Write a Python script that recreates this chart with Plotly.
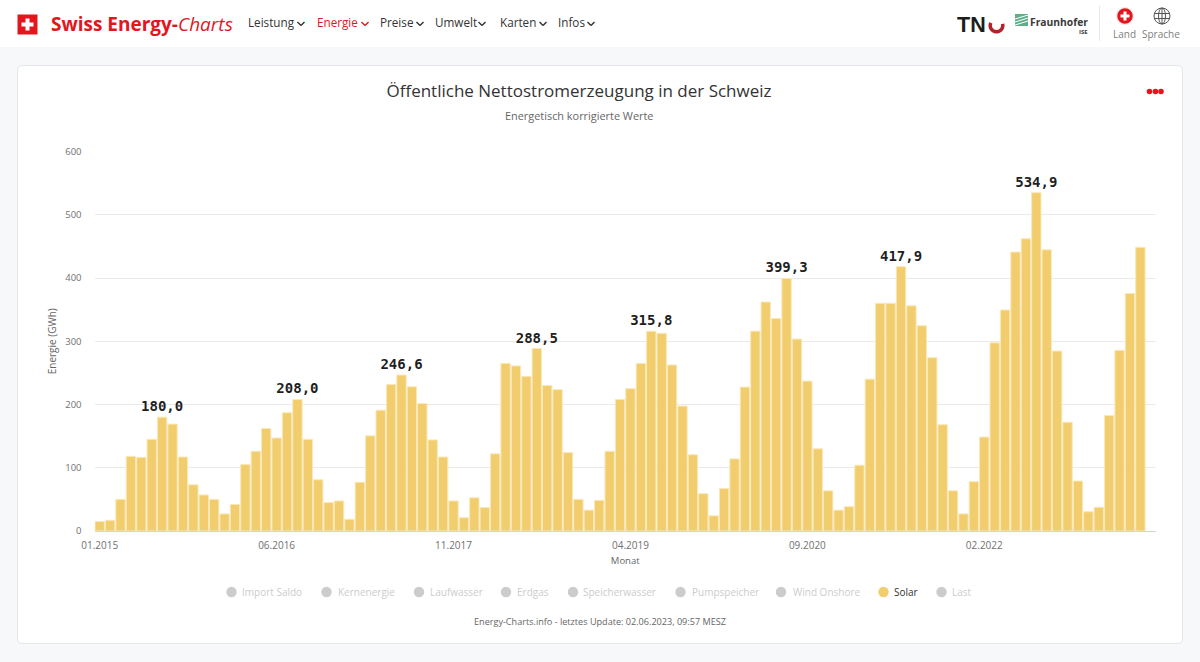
import math
import plotly.graph_objects as go

solar_gwh = [15, 17, 50, 118, 116.5, 145, 180.0, 169, 117, 73, 57, 50,
             27, 42, 105, 126, 162, 147, 187, 208.0, 145, 81, 45, 47.5,
             18.5, 77, 150.5, 191, 231.5, 246.6, 228, 201.5, 144, 117, 47.5, 21,
             52.5, 37, 122, 265, 261, 244.5, 288.5, 230, 223.5, 124, 50, 33,
             48.5, 126, 208, 225, 265, 315.8, 312.5, 262.5, 197.5, 120.5, 59, 24,
             67, 114, 227.5, 316, 362, 336, 399.3, 303.5, 237, 130, 63.5, 33,
             38.5, 104, 240, 360, 360, 417.9, 356, 324.5, 274, 168, 63.5, 27,
             78, 148.5, 297.5, 349.5, 441, 462, 534.9, 444.5, 284.5, 172, 79, 30.5,
             37.5, 182.5, 285.5, 375.5, 448.5]
months = [f"{m:02d}.{y}" for y in range(2015, 2024) for m in range(1, 13)][:len(solar_gwh)]
peak_months = ["07.2015", "08.2016", "06.2017", "07.2018", "06.2019", "07.2020", "06.2021", "07.2022"]
tick_months = ["01.2015", "06.2016", "11.2017", "04.2019", "09.2020", "02.2022"]
legend_names = ["Import Saldo", "Kernenergie", "Laufwasser", "Erdgas", "Speicherwasser",
                "Pumpspeicher", "Wind Onshore", "Solar", "Last"]
nav_items = ["Leistung", "Energie", "Preise", "Umwelt", "Karten", "Infos"]

W, H = 1200, 662
FONT = "Open Sans"
RED = "#e3161e"
SOLAR = "#f2cd6e"


def X(p):
    return p / W


def Y(p):
    return 1 - p / H


shapes, annos = [], []


def rect(x0, y0, x1, y1, fill, line=None, layer="below"):
    shapes.append(dict(type="rect", xref="paper", yref="paper", x0=X(x0), x1=X(x1), y0=Y(y0), y1=Y(y1),
                       fillcolor=fill, line=dict(color=line or fill, width=1 if line else 0), layer=layer))


def rounded(x0, y0, x1, y1, r, fill, line):
    p = (f"M {X(x0 + r)} {Y(y0)} L {X(x1 - r)} {Y(y0)} Q {X(x1)} {Y(y0)} {X(x1)} {Y(y0 + r)} "
         f"L {X(x1)} {Y(y1 - r)} Q {X(x1)} {Y(y1)} {X(x1 - r)} {Y(y1)} "
         f"L {X(x0 + r)} {Y(y1)} Q {X(x0)} {Y(y1)} {X(x0)} {Y(y1 - r)} "
         f"L {X(x0)} {Y(y0 + r)} Q {X(x0)} {Y(y0)} {X(x0 + r)} {Y(y0)} Z")
    shapes.append(dict(type="path", xref="paper", yref="paper", path=p, fillcolor=fill,
                       line=dict(color=line, width=1), layer="below"))


def circle(cx, cy, r, fill, line=None, lw=1, layer="above"):
    shapes.append(dict(type="circle", xref="paper", yref="paper", x0=X(cx - r), x1=X(cx + r), y0=Y(cy - r), y1=Y(cy + r),
                       fillcolor=fill, line=dict(color=line or fill, width=lw if line else 0), layer=layer))


def seg(x0, y0, x1, y1, color, lw=1):
    shapes.append(dict(type="line", xref="paper", yref="paper", x0=X(x0), x1=X(x1), y0=Y(y0), y1=Y(y1),
                       line=dict(color=color, width=lw), layer="above"))


def text(x, y, s, size, color, anchor="left", weight=400, family=FONT):
    annos.append(dict(xref="paper", yref="paper", x=X(x), y=Y(y), text=s, showarrow=False, xanchor=anchor,
                      yanchor="middle", font=dict(family=family, size=size, color=color, weight=weight),
                      borderpad=0, borderwidth=0))


# page chrome
rect(0, 0, 1200, 47, "#ffffff")
rounded(17.5, 65.5, 1182.5, 643.5, 4, "#ffffff", "#e3e6ea")

# brand
rect(17.5, 14.5, 37.5, 34.5, RED)
rect(25.5, 18.5, 29.5, 30.5, "#ffffff", layer="above")
rect(21.5, 22.5, 33.5, 26.5, "#ffffff", layer="above")
text(51, 24, "<b>Swiss Energy-</b><i>Charts</i>", 19, RED)

# nav
nav_x = [248, 317, 380, 435, 500, 558]
chev_x = [301, 365, 420, 482, 543, 591]
for name, nx, cx in zip(nav_items, nav_x, chev_x):
    c = RED if name == "Energie" else "#333333"
    text(nx, 22.5, name, 11.7, c)
    seg(cx - 3.5, 22, cx, 25.5, c, 1.4)
    seg(cx, 25.5, cx + 3.5, 22, c, 1.4)

# partner logos
text(957, 25, "<b>TN</b>", 21.5, "#1d1d1b", family="Liberation Sans")
arc = [(996.5 + 6.3 * math.cos(math.radians(t)), 25.5 + 6.3 * math.sin(math.radians(t))) for t in range(-15, 206, 10)]
shapes.append(dict(type="path", xref="paper", yref="paper", layer="above",
                   path="M " + " L ".join(f"{X(a)} {Y(b)}" for a, b in arc),
                   line=dict(color="#b5202a", width=3.5)))
rect(1015, 14, 1028, 26, "#5fae8a", layer="above")
for yy in (17, 20, 23):
    seg(1015, yy + 2, 1028, yy - 2, "#ffffff", 1)
text(1030, 22, "<b>Fraunhofer</b>", 10.3, "#3a3a3a")
text(1083, 31.5, "ISE", 6, "#3a3a3a", anchor="center", weight=700)

# country and language
seg(1099.5, 6, 1099.5, 41, "#e6e6e6", 1)
circle(1125, 16, 8.5, RED, "#eeeeee", 1.5)
rect(1123.5, 11.5, 1126.5, 20.5, "#ffffff", layer="above")
rect(1120.5, 14.5, 1129.5, 17.5, "#ffffff", layer="above")
circle(1162, 16, 8, "rgba(0,0,0,0)", "#555555", 1)
shapes.append(dict(type="circle", xref="paper", yref="paper", x0=X(1158.5), x1=X(1165.5), y0=Y(8), y1=Y(24),
                   line=dict(color="#555555", width=1), layer="above"))
seg(1154, 13.5, 1170, 13.5, "#555555", 1)
seg(1154, 18.5, 1170, 18.5, "#555555", 1)
seg(1162, 8, 1162, 24, "#555555", 1)
text(1124, 34, "Land", 10, "#808080", "center")
text(1161, 34, "Sprache", 10, "#808080", "center")

# chart menu
for cx in (1149.5, 1155.5, 1161):
    circle(cx, 91.5, 2.8, RED)

# legend
legend_dots = [231.5, 326.5, 419, 506, 573, 680.5, 781, 883.5, 941.5]
legend_text = [242, 337.5, 429.5, 517, 583, 692, 792.5, 894, 952]
for name, dx, tx in zip(legend_names, legend_dots, legend_text):
    active = name == "Solar"
    circle(dx, 592, 5.2, SOLAR if active else "#cccccc")
    text(tx, 592, name, 10, "#333333" if active else "#cccccc", weight=500)

# subtitle and footer
text(579, 116, "Energetisch korrigierte Werte", 10.9, "#666666", "center")
text(600, 621, "Energy-Charts.info - letztes Update: 02.06.2023, 09:57 MESZ", 9.1, "#666666", "center", weight=500)

peak_text = [f"{v:.1f}".replace(".", ",") if m in peak_months else "" for m, v in zip(months, solar_gwh)]

fig = go.Figure(go.Bar(
    x=months, y=solar_gwh, name="Solar", text=peak_text, textposition="outside", cliponaxis=False,
    constraintext="none", textangle=0,
    textfont=dict(family="DejaVu Sans Mono", size=14, color="#1f1f1f", weight=700),
    marker=dict(color=SOLAR, line=dict(color="#fae8b8", width=1)), showlegend=False,
))
fig.update_layout(
    width=W, height=H, margin=dict(l=0, r=0, t=0, b=0, autoexpand=False),
    paper_bgcolor="#f7f8fa", plot_bgcolor="rgba(0,0,0,0)", bargap=0.1, showlegend=False,
    font=dict(family=FONT),
    title=dict(text="Öffentliche Nettostromerzeugung in der Schweiz", x=579 / W, xanchor="center",
               y=Y(91.5), yanchor="middle", font=dict(family=FONT, size=17, color="#333333")),
    shapes=shapes, annotations=annos,
    xaxis=dict(domain=[X(94.5), X(1156)], type="category", range=[-0.5, 101.5], categoryorder="array",
               categoryarray=months, tickmode="array", tickvals=tick_months, ticktext=tick_months,
               ticks="", showgrid=False, showline=True, linecolor="#ccd6eb", linewidth=1, zeroline=False,
               tickfont=dict(family=FONT, size=10, color="#707070"), tickangle=0, ticklabelstandoff=5,
               automargin=False,
               title=dict(text="Monat", standoff=6, font=dict(family=FONT, size=9.5, color="#666666"))),
    yaxis=dict(domain=[Y(531), Y(151.5)], range=[0, 600], tickvals=[0, 100, 200, 300, 400, 500, 600],
               gridcolor="#eaeaea", gridwidth=1, zeroline=False, showline=False, ticks="",
               tickfont=dict(family=FONT, size=9.5, color="#707070"), ticklabelstandoff=12,
               automargin=False,
               title=dict(text="Energie (GWh)", standoff=6, font=dict(family=FONT, size=10, color="#666666"))),
)
fig.write_html("out.html", config=dict(displayModeBar=False),
               post_script="document.body.style.margin='0';document.documentElement.style.overflow='hidden';")
